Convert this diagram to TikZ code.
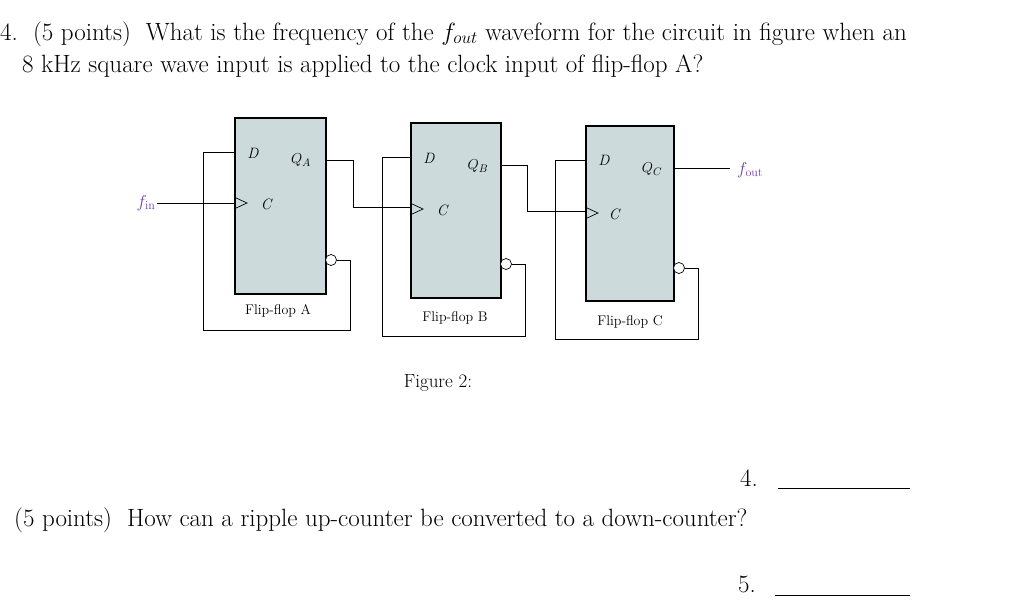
\documentclass[tikz,border=0pt]{standalone}
\begin{document}
\begin{tikzpicture}[x=1pt,y=-1pt,
 ff/.style={draw,line width=2pt,fill=boxfill},
 wire/.style={draw,line width=0.7pt},
 lbl/.style={font=\itshape\fontsize{15}{17}\selectfont},
 bub/.style={draw,circle,fill=white,minimum size=11,inner sep=0,line width=0.7pt},
 sigl/.style={font=\fontsize{17}{19}\selectfont,text=sig,inner sep=1pt},
 qtext/.style={font=\fontsize{25}{28}\selectfont,anchor=base west,inner sep=0}]
\definecolor{boxfill}{RGB}{205,218,220}
\definecolor{sig}{RGB}{110,60,170}
\useasboundingbox (0,0) rectangle (1024,603);
% question text
\node[qtext] (t1) at (0,40) {4.\ \ (5 points)\ \ What is the frequency of the $f_{out}$ waveform for the circuit in figure when an};
\node[qtext] (t2) at (22,72) {8 kHz square wave input is applied to the clock input of flip-flop A?};
% flip-flops
\node[ff,minimum width=91,minimum height=176,anchor=north west,inner sep=0] (A) at (234,117) {};
\node[ff,minimum width=90,minimum height=175,anchor=north west,inner sep=0] (B) at (410,122) {};
\node[ff,minimum width=88,minimum height=175,anchor=north west,inner sep=0] (C) at (585,125) {};
% internal labels
\node[lbl] (DA) at (253,153) {D}; \node[lbl] (QA) at (301,160) {$Q_A$}; \node[lbl] (CA) at (266,204) {C};
\node[lbl] (DB) at (429,158) {D}; \node[lbl] (QB) at (478,166) {$Q_B$}; \node[lbl] (CB) at (442,210) {C};
\node[lbl] (DC) at (604,160) {D}; \node[lbl] (QC) at (652,169) {$Q_C$}; \node[lbl] (CC) at (614,214) {C};
% clock triangles
\draw[line width=0.7pt] (234,197)--(247,203)--(234,209);
\draw[line width=0.7pt] (410,203)--(423,209)--(410,215);
\draw[line width=0.7pt] (585,207)--(598,213)--(585,219);
% bubbles
\node[bub] (nA) at (331,260) {};
\node[bub] (nB) at (506,264) {};
\node[bub] (nC) at (679,268) {};
% wires
\node[sigl] (fin) at (146,203) {$f_{\mathrm{in}}$};
\draw[wire] (fin.east) -- (234,203);
\draw[wire] (nA.east) -- (350,260) -- (350,330) -- (203,330) -- (203,152) -- (234,152);
\draw[wire] (325,160) -- (353,160) -- (353,207) -- (410,207);
\draw[wire] (nB.east) -- (525,264) -- (525,336) -- (382,336) -- (382,157) -- (410,157);
\draw[wire] (500,165) -- (527,165) -- (527,211) -- (585,211);
\draw[wire] (nC.east) -- (698,268) -- (698,339) -- (555,339) -- (555,160) -- (585,160);
\node[sigl,anchor=west] (fout) at (736,170) {$f_{\mathrm{out}}$};
\draw[wire] (673,168) -- (730,168);
% FF labels
\node[font=\fontsize{14}{16}\selectfont] (LA) at (278,311) {Flip-flop A};
\node[font=\fontsize{14}{16}\selectfont] (LB) at (455,318) {Flip-flop B};
\node[font=\fontsize{14}{16}\selectfont] (LC) at (630,322) {Flip-flop C};
\node[font=\fontsize{19}{22}\selectfont] (fig) at (438,383) {Figure 2:};
% answers
\node[qtext] (a4) at (740,486) {4.};
\draw[line width=0.7pt] (778,488) -- (910,488);
\node[qtext] (q5) at (14,526) {(5 points)\ \ How can a ripple up-counter be converted to a down-counter?};
\node[qtext] (a5) at (738,592) {5.};
\draw[line width=0.7pt] (775,595) -- (910,595);
\end{tikzpicture}
\end{document}
